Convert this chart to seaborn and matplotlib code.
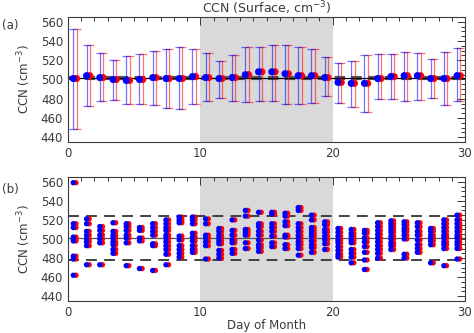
import numpy as np
import pandas as pd
import matplotlib
matplotlib.use("Agg")
import matplotlib.pyplot as plt
import seaborn as sns
from matplotlib.ticker import MultipleLocator

# ---------------- data ----------------
days = list(range(30))

# panel (a): daily mean and spread
mean_a = [501, 504, 502, 500, 499, 500, 502, 501, 501, 503, 502, 501, 502, 505, 508,
          508, 506, 504, 504, 502, 497, 496, 496, 501, 503, 504, 504, 501, 501, 504]
upper_a = [552, 536, 528, 520, 524, 526, 530, 532, 534, 532, 528, 519, 525, 534, 534,
           536, 536, 534, 532, 523, 517, 519, 525, 526, 527, 529, 528, 521, 529, 533]
lower_a = [448, 472, 478, 479, 474, 474, 473, 470, 469, 474, 478, 481, 478, 477, 478,
           478, 475, 475, 476, 483, 476, 471, 466, 480, 480, 478, 479, 481, 473, 478]

# panel (b): individual values per day
vals_b = [
    [559, 516, 512, 502, 500, 498, 482, 479, 462],
    [521, 516, 508, 504, 500, 497, 493, 473],
    [513, 509, 504, 500, 496, 473],
    [517, 508, 504, 501, 497, 494, 489, 485],
    [516, 513, 509, 504, 501, 496, 472],
    [512, 509, 501, 498, 469],
    [516, 512, 508, 504, 495, 493, 467],
    [520, 516, 512, 509, 504, 501, 497, 493, 489, 484, 473],
    [523, 520, 517, 503, 499, 493, 489, 485, 481],
    [523, 520, 516, 506, 502, 498, 493, 489, 486],
    [521, 516, 504, 501, 497, 493, 479],
    [511, 508, 504, 501, 498, 495, 488, 484, 480],
    [520, 509, 504, 499, 496, 489, 485],
    [530, 524, 510, 507, 504, 496, 490],
    [528, 516, 513, 508, 504, 499, 494, 491, 487],
    [528, 526, 516, 512, 508, 503, 496, 492],
    [527, 524, 518, 514, 504, 502, 494, 490],
    [533, 530, 516, 512, 508, 504, 501, 497, 494, 490, 483],
    [525, 520, 512, 509, 506, 503, 498, 494, 491, 486],
    [518, 515, 510, 507, 503, 499, 495, 489],
    [511, 507, 503, 499, 496, 492, 488, 484, 481],
    [510, 506, 503, 499, 496, 489, 485, 481, 475],
    [509, 506, 501, 497, 492, 486, 478, 468],
    [517, 513, 509, 505, 501, 497, 493, 489, 485, 480],
    [519, 516, 513, 510, 507, 503, 500, 496, 493, 489],
    [518, 515, 511, 508, 504, 500, 484, 480],
    [517, 513, 508, 504, 499, 494, 490, 486],
    [511, 508, 504, 501, 498, 494, 475],
    [520, 516, 512, 508, 504, 501, 497, 494, 490, 472],
    [525, 520, 516, 512, 508, 504, 501, 497, 494, 490, 479],
]
overall_mean = 501.5
overall_std = 23.0

x_ticks = [0, 10, 20, 30]
y_ticks = [440, 460, 480, 500, 520, 540, 560]

# ---------------- style ----------------
sns.set_theme(style="white")
plt.rcParams["font.family"] = ["DejaVu Sans"]
TXT = "#3a3a3a"
BLUE = "#0000ff"
RED = "#ff0000"

fig = plt.figure(figsize=(4.74, 3.33), dpi=100)
W, H = 474, 333
ax_a = fig.add_axes([68 / W, 1 - 142 / H, 397 / W, 125 / H])
ax_b = fig.add_axes([68 / W, 1 - 301 / H, 397 / W, 124 / H])

def style_axes(ax):
    ax.set_xlim(0, 30)
    ax.set_ylim(435, 565)
    ax.axvspan(10, 20, color="#d9d9d9", zorder=0, lw=0)
    ax.set_xticks(x_ticks)
    ax.set_yticks(y_ticks)
    ax.xaxis.set_minor_locator(MultipleLocator(1))
    ax.yaxis.set_minor_locator(MultipleLocator(5))
    ax.tick_params(which="both", direction="in", top=True, right=True,
                   colors=TXT, labelcolor=TXT, labelsize=8.5, width=0.7)
    ax.tick_params(which="major", length=6, pad=3.5)
    ax.tick_params(which="minor", length=3)
    for s in ax.spines.values():
        s.set_color(TXT)
        s.set_linewidth(0.8)
    ax.set_ylabel("CCN (cm$^{-3}$)", color=TXT, fontsize=8.5)
    ax.yaxis.set_label_coords(-35 / 397, 0.5)
    ax.set_xlabel("")

# ---------------- panel (a) ----------------
style_axes(ax_a)
mean_arr = np.array(mean_a, dtype=float)
yerr = [mean_arr - np.array(lower_a), np.array(upper_a) - mean_arr]
xb = np.array(days) + 0.4
xr = np.array(days) + 0.65
ax_a.axhline(overall_mean, color="#555555", lw=3, ls=(0, (2.5, 1.5)), zorder=1)
ax_a.axhline(overall_mean, color="black", lw=0.9, zorder=1)
ax_a.errorbar(xr, mean_arr, yerr=yerr, fmt="none", ecolor=RED, alpha=0.55,
              elinewidth=0.9, capsize=3, capthick=0.9, zorder=2)
ax_a.errorbar(xb, mean_arr, yerr=yerr, fmt="none", ecolor=BLUE, alpha=0.55,
              elinewidth=0.9, capsize=3, capthick=0.9, zorder=2)
sns.scatterplot(x=xr, y=mean_arr, color=RED, s=26, edgecolor="none", ax=ax_a, zorder=3)
sns.scatterplot(x=xb, y=mean_arr, color=BLUE, s=26, edgecolor="none", ax=ax_a, zorder=4)
ax_a.set_title("CCN (Surface, cm$^{-3}$)", color=TXT, fontsize=9, pad=3)

# ---------------- panel (b) ----------------
style_axes(ax_b)
rows = []
for d, vs in zip(days, vals_b):
    for v in vs:
        rows.append((d, v))
df = pd.DataFrame(rows, columns=["day", "ccn"])
ax_b.axhline(overall_mean, color="#555555", lw=0.9, zorder=1)
ax_b.axhline(overall_mean + overall_std, color="#333333", lw=1.3,
             ls=(0, (6, 4)), zorder=1)
ax_b.axhline(overall_mean - overall_std, color="#333333", lw=1.3,
             ls=(0, (6, 4)), zorder=1)
sns.scatterplot(x=df["day"] + 0.6, y=df["ccn"], color=RED, s=15, marker="o",
                edgecolor="none", ax=ax_b, zorder=3)
sns.scatterplot(x=df["day"] + 0.4, y=df["ccn"], color=BLUE, s=15, marker="o",
                edgecolor="none", ax=ax_b, zorder=4)
ax_b.set_xlabel("")

fig.text(266.5 / W, 1 - 325 / H, "Day of Month", color=TXT, fontsize=8.5,
         ha="center", va="center")
fig.text(10 / W, 1 - 25 / H, "(a)", color=TXT, fontsize=8.5, ha="center", va="center")
fig.text(10 / W, 1 - 189 / H, "(b)", color=TXT, fontsize=8.5, ha="center", va="center")

fig.savefig("out.png", dpi=100)
